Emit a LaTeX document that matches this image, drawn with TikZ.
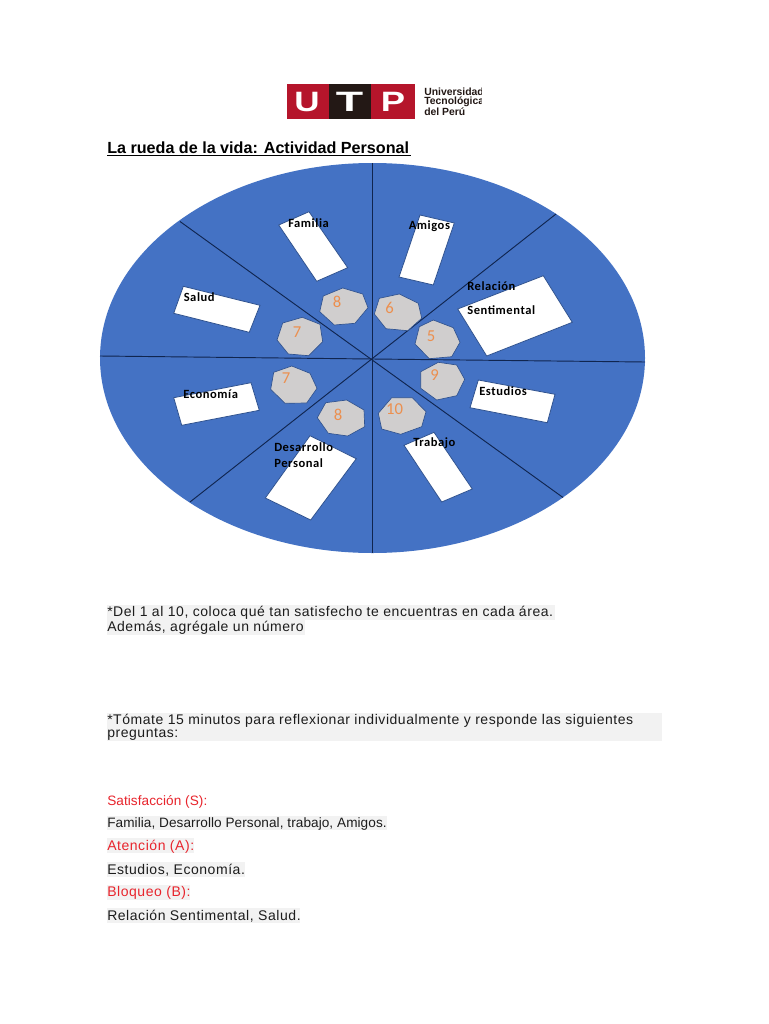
\documentclass[tikz,border=0pt]{standalone}
\usepackage{fontspec}
\setmainfont{Liberation Sans}
\newfontfamily\lblfont[LetterSpace=4.5]{Carlito}
\newfontfamily\numfont{Carlito}
\newfontfamily\wideface[LetterSpace=3.9]{Liberation Sans}
\newfontfamily\narrowface[LetterSpace=0.5]{Liberation Sans}
\definecolor{wheelblue}{HTML}{4472C4}
\definecolor{linedark}{HTML}{10254F}
\definecolor{edgeblue}{HTML}{2F528F}
\definecolor{padgrey}{HTML}{D0CECE}
\definecolor{numorange}{HTML}{EC8F4E}
\definecolor{utpred}{HTML}{B5152B}
\definecolor{utpdark}{HTML}{231815}
\definecolor{hilite}{HTML}{F2F2F2}
\definecolor{bodyink}{HTML}{1C1C1C}
\definecolor{redink}{HTML}{E8242C}
\tikzset{
 x=0.75pt,y=-0.75pt,
 wheelbg/.style={fill=wheelblue,draw=none},
 spoke/.style={draw=linedark,line width=0.7pt},
 card/.style={fill=white,draw=edgeblue,line width=0.6pt},
 pad/.style={fill=padgrey,draw=edgeblue,line width=0.5pt},
 lbl/.style={font=\lblfont\fontsize{9.4}{11}\selectfont\bfseries,text=black,inner sep=0,anchor=west},
 num/.style={font=\numfont\fontsize{12.5}{14}\selectfont,text=numorange,inner sep=0},
 body/.style={font=\wideface\fontsize{10.5}{12}\selectfont,text=bodyink,inner sep=0,anchor=west},
 bodyb/.style={body,font=\narrowface\fontsize{10.2}{12}\selectfont},
 redh/.style={body,text=redink},
 hl/.style={fill=hilite,draw=none},
 logol/.style={font=\fontsize{21}{21}\selectfont\bfseries,text=white,inner sep=0},
 logot/.style={font=\fontsize{7.8}{6.6}\selectfont\bfseries,text=utpdark,inner sep=0,anchor=west,align=left}
}
\begin{document}
\begin{tikzpicture}
\useasboundingbox (0,0) rectangle (768,1024);
\fill[white] (0,0) rectangle (768,1024);
% logo
\fill[utpred] (286.7,84.3) rectangle (414.7,119.3);
\fill[utpdark] (329.3,84.3) rectangle (371,119.3);
\node[logol] (lu) at (307,102) {\scalebox{1.25}[1]{U}};
\node[logol] (lt) at (349.5,102) {\scalebox{1.6}[1]{T}};
\node[logol] (lp) at (393,102) {\scalebox{1.3}[1]{P}};
\begin{scope}
\clip (420,84) rectangle (481.5,120);
\node[logot] (l1) at (424,102) {Universidad\\Tecnológica\\del Perú};
\end{scope}
% title
\node[body,font=\fontsize{12.1}{14}\selectfont\bfseries,text=black] (title) at (107,148) {La rueda de la vida: Actividad Personal};
\draw[black,line width=0.7pt] (107,155) -- (410.5,155);
% wheel
\fill[wheelbg] (372.5,358) ellipse [x radius=272.5,y radius=195];
\coordinate (c1) at (372,163); \coordinate (c2) at (372,553);
\coordinate (c3) at (100,356); \coordinate (c4) at (645,362);
\coordinate (c5) at (180,221.5); \coordinate (c6) at (563,497.5);
\coordinate (c7) at (556,214); \coordinate (c8) at (190,502);
\draw[spoke] (c1) -- (c2);
\draw[spoke] (c3) -- (c4);
\draw[spoke] (c5) -- (c6);
\draw[spoke] (c7) -- (c8);
% cards
\draw[card] (278.7,225) -- (309,211.7) -- (347.7,267.7) -- (316.7,281.3) -- cycle;
\draw[card] (183.3,286.3) -- (260,305.3) -- (249.3,332.3) -- (173.7,313.3) -- cycle;
\draw[card] (420,215) -- (454.3,223) -- (433.3,285) -- (399,277) -- cycle;
\draw[card] (543.3,275.7) -- (572.3,322.3) -- (486.7,356) -- (457.7,309) -- cycle;
\draw[card] (251,382.7) -- (259.3,410.3) -- (181.7,425.3) -- (173.7,397.7) -- cycle;
\draw[card] (310,435.7) -- (356.3,458.7) -- (310.7,520) -- (265.3,498) -- cycle;
\draw[card] (478.3,380) -- (555,394.3) -- (547.3,422.7) -- (470,407.7) -- cycle;
\draw[card] (434,432.3) -- (472.3,489) -- (441.7,502) -- (404,445.3) -- cycle;
% pads
\draw[pad] (342.7,288) -- (362.7,294) -- (368,307.7) -- (355,323.3) -- (334.3,325) -- (319.7,311.7) -- (323.3,296) -- cycle;
\draw[pad] (302.3,317.3) -- (320,324.3) -- (322.7,341.7) -- (308.7,355.7) -- (288.3,354) -- (277,340) -- (282.7,323) -- cycle;
\draw[pad] (399.3,294) -- (418.3,303.3) -- (421.7,318.3) -- (407.7,330.7) -- (386,328.7) -- (374.3,314) -- (379.3,298.3) -- cycle;
\draw[pad] (433.3,320) -- (453.3,327.7) -- (460,342.3) -- (451.7,356.7) -- (429.3,358.7) -- (415,344) -- (419.3,326.7) -- cycle;
\draw[pad] (291.7,366) -- (310,373.3) -- (317,388.3) -- (306.7,403) -- (285,403.3) -- (270.7,389.3) -- (273.7,372.3) -- cycle;
\draw[pad] (346.7,400) -- (364,410) -- (364.7,426.7) -- (347.7,436) -- (328.3,433.3) -- (317.3,417.7) -- (325.7,402.7) -- cycle;
\draw[pad] (438.3,362.3) -- (456.7,365) -- (464.7,379.3) -- (456.7,395.7) -- (436.7,400) -- (420.7,388.3) -- (420.7,371.7) -- cycle;
\draw[pad] (391.7,397.7) -- (412.3,397.7) -- (426,411.7) -- (421.7,426.7) -- (400.7,434.3) -- (381.7,429) -- (378.3,413.3) -- cycle;
% numbers
\node[num] (n1) at (337,302) {8};
\node[num] (n2) at (297,332.5) {7};
\node[num] (n3) at (389.5,308) {6};
\node[num] (n4) at (431,336) {5};
\node[num] (n5) at (286,378) {7};
\node[num] (n6) at (338,414.5) {8};
\node[num] (n7) at (434.5,375) {9};
\node[num] (n8) at (394.5,409.5) {10};
% labels
\node[lbl] (a1) at (288,223) {Familia};
\node[lbl] (a2) at (183.5,297) {Salud};
\node[lbl] (a3) at (408.5,226) {Amigos};
\node[lbl] (a4) at (467,286.5) {Relación};
\node[lbl] (a5) at (467,310.5) {Sentimental};
\node[lbl] (a6) at (183,394.5) {Economía};
\node[lbl] (a7) at (274,447.5) {Desarrollo};
\node[lbl] (a8) at (274,463.5) {Personal};
\node[lbl] (a9) at (479,391) {Estudios};
\node[lbl] (a10) at (413,443) {Trabajo};
% text blocks
\fill[hl] (107,605) rectangle (555,620);
\fill[hl] (107,620) rectangle (305,635);
\fill[hl] (107,713) rectangle (662,727);
\fill[hl] (107,727) rectangle (662,741);
\fill[hl] (107,816) rectangle (387,830);
\fill[hl] (107,838) rectangle (194,853);
\fill[hl] (107,862) rectangle (245,877);
\fill[hl] (107,885) rectangle (190,900);
\fill[hl] (107,908) rectangle (300,923);
\node[body] (t1) at (107,612.5) {*Del 1 al 10, coloca qué tan satisfecho te encuentras en cada área.};
\node[body] (t2) at (107,628) {Además, agrégale un número};
\node[body] (t3) at (107,720.5) {*Tómate 15 minutos para reflexionar individualmente y responde las siguientes};
\node[body] (t4) at (107,734.5) {preguntas:};
\node[bodyb,text=redink] (t5) at (107,802) {Satisfacción (S):};
\node[bodyb] (t6) at (107,823.5) {Familia, Desarrollo Personal, trabajo, Amigos.};
\node[redh] (t7) at (107,846.5) {Atención (A):};
\node[body] (t8) at (107,870) {Estudios, Economía.};
\node[redh] (t9) at (107,892.5) {Bloqueo (B):};
\node[body] (t10) at (107,916) {Relación Sentimental, Salud.};
\end{tikzpicture}
\end{document}
